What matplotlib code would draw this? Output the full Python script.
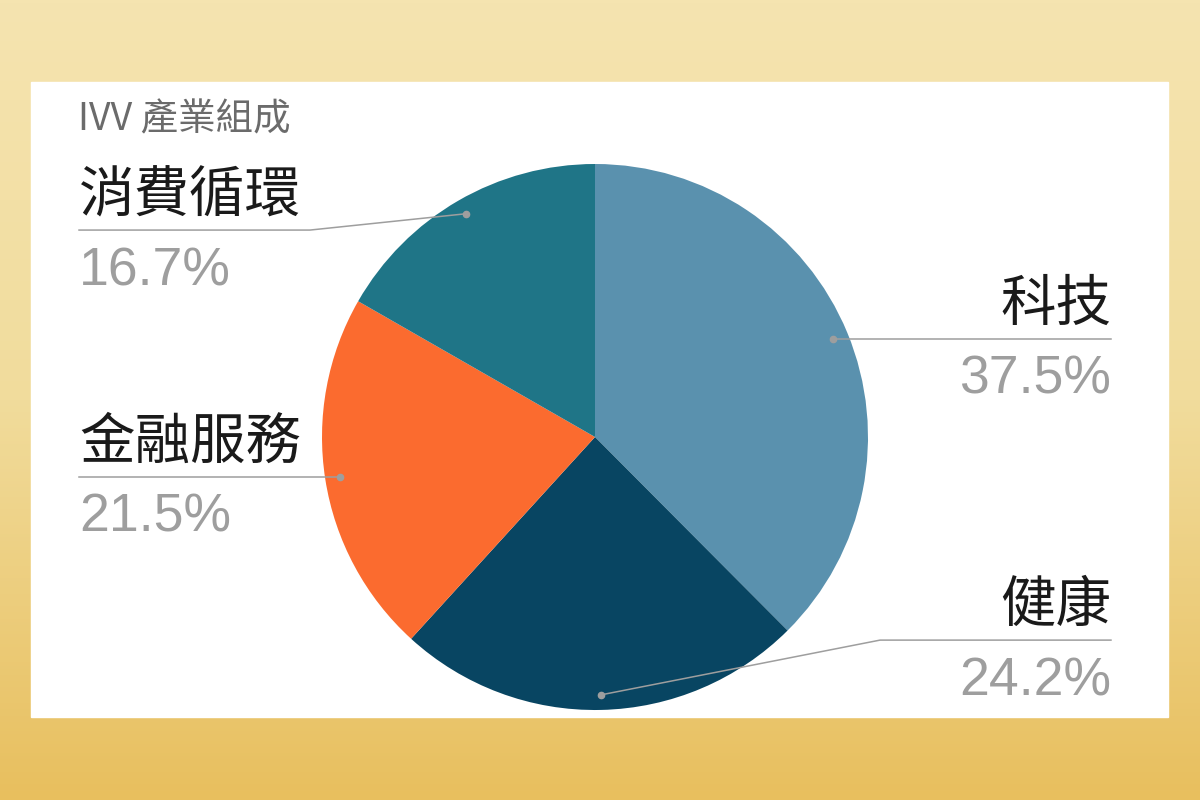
import numpy as np
import matplotlib.pyplot as plt
from matplotlib.patches import Rectangle
from matplotlib.colors import LinearSegmentedColormap

# data
labels = ['科技', '健康', '金融服務', '消費循環']
values = [37.5, 24.2, 21.5, 16.7]
pct_text = ['37.5%', '24.2%', '21.5%', '16.7%']
colors = ['#5a91ae', '#084562', '#fb6b2f', '#1f7587']
title = 'IVV 產業組成'

cjk = ['Noto Sans CJK TC', 'DejaVu Sans']
num = ['Liberation Sans', 'DejaVu Sans']
gray = '#9e9e9e'

fig = plt.figure(figsize=(12, 8), dpi=100)

# gradient background
bg = fig.add_axes([0, 0, 1, 1])
grad = LinearSegmentedColormap.from_list('g', ['#f5e4b0', '#f1dc9c', '#e8bf5e'])
bg.imshow(np.linspace(0, 1, 256).reshape(-1, 1), aspect='auto', cmap=grad,
          extent=[0, 1, 0, 1])
bg.add_patch(Rectangle((0.026, 0.104), 0.947, 0.7935, color='white', transform=bg.transAxes))
bg.set_xlim(0, 1)
bg.set_ylim(0, 1)
bg.axis('off')

fig.text(0.065, 0.8375, title, fontsize=27, color='#6b6b6b', family=cjk, va='baseline')

# pie
ax = fig.add_axes([595/1200 - 273/1200, 363/800 - 273/800, 546/1200, 546/800])
wedges, _ = ax.pie(values, colors=colors, startangle=90, counterclock=False,
                   radius=1, wedgeprops=dict(linewidth=0))
ax.set_xlim(-1, 1)
ax.set_ylim(-1, 1)
ax.set_aspect('equal')
ax.axis('off')

# leader lines + labels
x_end = 1.89
elbow_x = 1.044
r_dot = 0.945
for w, lab, pt in zip(wedges, labels, pct_text):
    mid = np.deg2rad((w.theta1 + w.theta2) / 2)
    px, py = r_dot * np.cos(mid), r_dot * np.sin(mid)
    side = 1 if px > 0 else -1
    if abs(py) > 0.7:
        ly = 0.758 if py > 0 else -0.744
        xs = [px, side * elbow_x, side * x_end]
        ys = [py, ly, ly]
    else:
        ly = py
        xs = [px, side * x_end]
        ys = [py, py]
    ax.plot(xs, ys, color=gray, lw=1.1, clip_on=False)
    ax.plot(px, py, 'o', color=gray, ms=4.5, clip_on=False)
    ha = 'right' if side > 0 else 'left'
    ax.text(side * x_end, ly + 18 / 273, lab, ha=ha, va='baseline', fontsize=40,
            color='#1a1a1a', family=cjk, clip_on=False)
    ax.text(side * x_end, ly - 55 / 273, pt, ha=ha, va='baseline', fontsize=38.5,
            color=gray, family=num, clip_on=False)

fig.savefig('out.png', dpi=100)
